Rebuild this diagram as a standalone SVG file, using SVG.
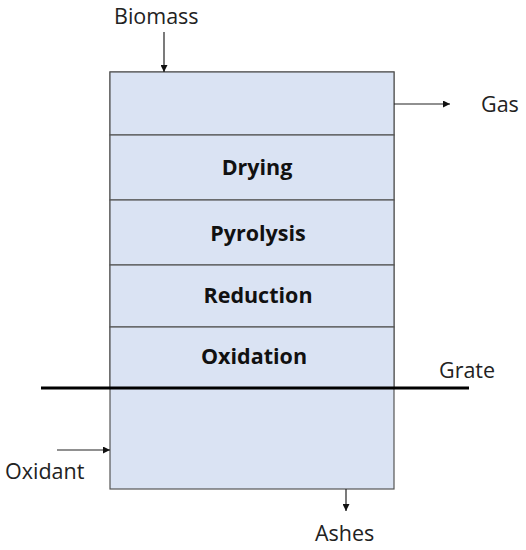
<svg xmlns="http://www.w3.org/2000/svg" width="526" height="550" viewBox="0 0 526 550">
<defs>
<style>
.lbl{font-family:"Open Sans","Noto Sans","Liberation Sans",sans-serif;font-size:21.5px;fill:#222}
.zone{font-family:"Open Sans","Noto Sans","Liberation Sans",sans-serif;font-size:21.5px;font-weight:bold;fill:#111;text-anchor:middle}
.sec{fill:#dae3f3;stroke:#555;stroke-width:1.2}
.arr{stroke:#222;stroke-width:1.2;fill:none;marker-end:url(#ah)}
</style>
<marker id="ah" viewBox="0 0 10 10" refX="10" refY="5" markerWidth="7" markerHeight="7" markerUnits="userSpaceOnUse" orient="auto"><path d="M0,0 L10,5 L0,10 z" fill="#111"/></marker>
</defs>
<rect width="526" height="550" fill="#fff"/>
<g id="reactor">
<rect class="sec" x="110" y="72" width="284" height="417"/>
</g>
<g id="top"><rect class="sec" x="110" y="72" width="284" height="63"/></g>
<g id="drying"><rect class="sec" x="110" y="135" width="284" height="65"/><text class="zone" x="257" y="175">Drying</text></g>
<g id="pyrolysis"><rect class="sec" x="110" y="200" width="284" height="65"/><text class="zone" x="258" y="241">Pyrolysis</text></g>
<g id="reduction"><rect class="sec" x="110" y="265" width="284" height="62"/><text class="zone" x="258" y="303">Reduction</text></g>
<g id="oxidation"><rect class="sec" x="110" y="327" width="284" height="61"/><text class="zone" x="254" y="364">Oxidation</text></g>
<g id="grate"><line x1="41" y1="388" x2="469" y2="388" stroke="#000" stroke-width="3"/><text class="lbl" x="439" y="378">Grate</text></g>
<g id="labels">
<text class="lbl" x="114" y="24">Biomass</text>
<text class="lbl" x="481" y="112">Gas</text>
<text class="lbl" x="5" y="479">Oxidant</text>
<text class="lbl" x="315" y="541">Ashes</text>
</g>
<g id="connectors">
<line class="arr" x1="164" y1="32" x2="164" y2="72"/>
<line class="arr" x1="394" y1="104" x2="450" y2="104"/>
<line class="arr" x1="57" y1="450" x2="110" y2="450"/>
<line class="arr" x1="346" y1="489" x2="346" y2="511"/>
</g>
</svg>
